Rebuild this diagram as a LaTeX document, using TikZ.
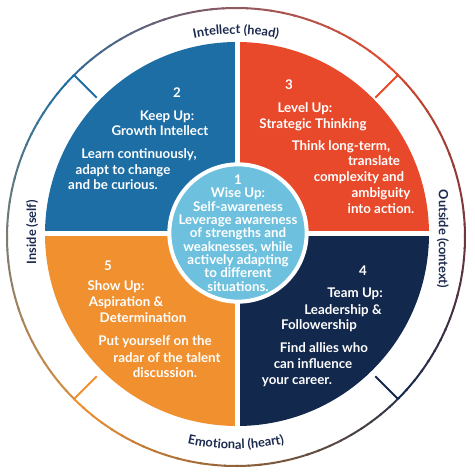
\documentclass[tikz,border=0pt]{standalone}
\usepackage{fontspec}
\setmainfont{Lato}
\usetikzlibrary{decorations.text}

\definecolor{keepblue}{HTML}{1C6EA4}
\definecolor{levelred}{HTML}{E8492A}
\definecolor{teamnavy}{HTML}{12284C}
\definecolor{showorange}{HTML}{F0902F}
\definecolor{wiseblue}{HTML}{6EC1DE}
\definecolor{labelnavy}{HTML}{1B2A4E}

\tikzset{
  qtext/.style={text=white, font=\bfseries\fontsize{10}{12}\selectfont,
    inner sep=0pt, anchor=base, yshift=-3pt},
  ringline/.style={line width=1.5pt},
  sidelabel/.style={text=labelnavy, font=\bfseries\fontsize{9.6}{11}\selectfont, inner sep=0pt},
  ringlabel/.style={decorate, decoration={text along path, text align=center,
    text color=labelnavy, text={|\bfseries\fontsize{9.6}{11}\selectfont|#1}}}
}

\begin{document}
\begin{tikzpicture}[x=0.75pt, y=0.75pt]
  \useasboundingbox (-237,-240) rectangle (237,234);

  % quarters
  \fill[keepblue] (0,0) -- (180:192) arc[start angle=180, end angle=90, radius=192] -- cycle;
  \fill[levelred] (0,0) -- (90:192) arc[start angle=90, end angle=0, radius=192] -- cycle;
  \fill[teamnavy] (0,0) -- (0:192) arc[start angle=0, end angle=-90, radius=192] -- cycle;
  \fill[showorange] (0,0) -- (270:192) arc[start angle=270, end angle=180, radius=192] -- cycle;
  \draw[white, line width=3.75pt] (-196,0) -- (196,0);
  \draw[white, line width=3.75pt] (0,-196) -- (0,196);

  % outer ring, ticks and ring labels
  \begin{scope}[shift={(-1,-3)}]
    \foreach \s/\ca/\cb in {45/levelred/keepblue, 135/keepblue/showorange,
                            225/showorange/teamnavy, 315/teamnavy/levelred}
      \foreach \t [evaluate=\t as \p using \t/0.9] in {0,3,...,87}
        \draw[ringline, draw=\cb!\p!\ca] (\s+\t:229)
          arc[start angle=\s+\t, end angle=\s+\t+3.4, radius=229];
    \foreach \a/\c in {45/levelred, 135/keepblue, 225/showorange, 315/teamnavy}
      \draw[ringline, \c] (\a:229) -- (\a:197);

    \path[ringlabel={Intellect (head)}] (125:203) arc[start angle=125, end angle=55, radius=203];
    \path[ringlabel={Emotional (heart)}] (235:212) arc[start angle=235, end angle=305, radius=212];
  \end{scope}
  \node[sidelabel, rotate=-90] (outside) at (206,-5) {Outside (context)};
  \node[sidelabel, rotate=90] (inside) at (-205,2) {Inside (self)};

  % 1: centre
  \node[circle, fill=wiseblue, draw=white, line width=3pt, minimum size=103pt, inner sep=0pt] (wise) at (1,1) {};
  \node[text=white, font=\bfseries\fontsize{10}{10}\selectfont, align=center, inner sep=0pt] (wisetext) at (wise.center)
    {1\\Wise Up:\\Self-awareness\\Leverage awareness\\of strengths and\\weaknesses, while\\actively adapting\\to different\\situations.};

  % 2: keep up
  \node[qtext] (keepnum) at (-60,140) {2};
  \node[qtext] (keeptitle) at (-70,117) {Keep Up:};
  \node[qtext] (keepsub) at (-77,102) {Growth Intellect};
  \node[qtext] (keepa) at (-98,79) {Learn continuously,};
  \node[qtext] (keepb) at (-114,63) {adapt to change};
  \node[qtext] (keepc) at (-124,48) {and be curious.};

  % 3: level up
  \node[qtext] (levelnum) at (52,148) {3};
  \node[qtext] (leveltitle) at (68,125) {Level Up:};
  \node[qtext] (levelsub) at (76,109) {Strategic Thinking};
  \node[qtext] (levela) at (104,87) {Think long-term,};
  \node[qtext] (levelb) at (137,72) {translate};
  \node[qtext] (levelc) at (122,56) {complexity and};
  \node[qtext] (leveld) at (144,40) {ambiguity};
  \node[qtext] (levele) at (144,24) {into action.};

  % 4: team up
  \node[qtext] (teamnum) at (126,-38) {4};
  \node[qtext] (teamtitle) at (118,-60) {Team Up:};
  \node[qtext] (teamsub) at (106,-76) {Leadership \&};
  \node[qtext] (teamsubb) at (82,-92) {Followership};
  \node[qtext] (teama) at (87,-114) {Find allies who};
  \node[qtext] (teamb) at (76,-130) {can influence};
  \node[qtext] (teamc) at (60,-146) {your career.};

  % 5: show up
  \node[qtext] (shownum) at (-129,-33) {5};
  \node[qtext] (showtitle) at (-121,-53) {Show Up:};
  \node[qtext] (showsub) at (-111,-69) {Aspiration \&};
  \node[qtext] (showsubb) at (-94,-85) {Determination};
  \node[qtext] (showa) at (-82,-108) {Put yourself on the};
  \node[qtext] (showb) at (-70,-124) {radar of the talent};
  \node[qtext] (showc) at (-72,-139) {discussion.};
\end{tikzpicture}
\end{document}
